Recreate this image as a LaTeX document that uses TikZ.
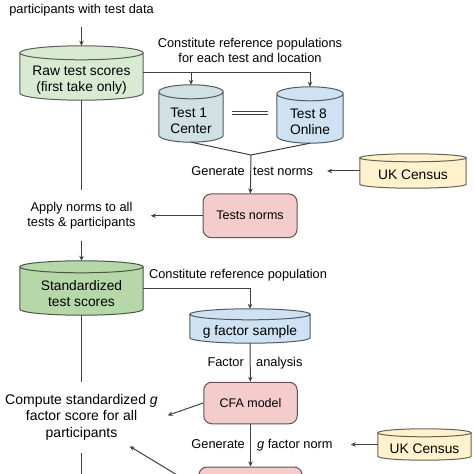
\documentclass[tikz,border=0pt]{standalone}
\usepackage{fontspec}
\setmainfont{Liberation Sans}
\usepackage{xcolor}
\usepackage{tikz}
\usetikzlibrary{positioning}
\usetikzlibrary{calc}
\usetikzlibrary{backgrounds}
\usetikzlibrary{arrows.meta}

\definecolor{rawfill}{HTML}{D9EAD3}
\definecolor{stdfill}{HTML}{B6D7A8}
\definecolor{centerfill}{HTML}{D0E0E3}
\definecolor{onlinefill}{HTML}{CFE2F3}
\definecolor{censusfill}{HTML}{FFF2CC}
\definecolor{normfill}{HTML}{F4CCCC}
\definecolor{linkgray}{HTML}{404040}

% data store drawn round a named node: #1 node, #2 fill, #3 half height of the cap
\newcommand{\drawstore}[3]{%
\draw[storeline, draw=#2!40!black, fill=#2]
  let \p1=(#1.north west), \p2=(#1.south east), \n1={(\x2-\x1)/2} in
  (\x1,{\y1+#3}) -- (\x1,{\y2+#3}) arc[start angle=180, end angle=360, x radius=\n1, y radius=#3] -- (\x2,{\y1+#3})
  ({\x1+\n1},{\y1+#3}) ellipse[x radius=\n1, y radius=#3]
  ({\x1+\n1},{\y1+2*#3}) coordinate (#1-top)
  (\x1,{(\y1+\y2)/2+#3}) coordinate (#1-left)
  (\x2,{(\y1+\y2)/2+#3}) coordinate (#1-right);
}

\tikzset{
storeline/.style={line width=1bp},
store/.style={inner sep=0pt, align=center, font=\fontsize{13.8bp}{16bp}\selectfont},
stepbox/.style={draw=normfill!40!black, fill=normfill, line width=1bp, rounded corners=8bp, inner sep=0pt, font=\fontsize{12.5bp}{15bp}\selectfont},
note/.style={align=center, inner sep=5bp, font=\fontsize{12.8bp}{15bp}\selectfont},
tag/.style={inner sep=2bp, text height=9.2bp, text depth=2.7bp, font=\fontsize{12.8bp}{15bp}\selectfont},
link/.style={draw=linkgray, line width=1bp},
arr/.style={link, -{Stealth[length=5bp, width=4.5bp]}}
}

\begin{document}
\begin{tikzpicture}[x=1bp, y=-1bp]

\useasboundingbox (0,0) rectangle (474,474);
\clip (0,0) rectangle (474,474);

%data stores
\node[store, minimum width=123bp, minimum height=40bp] (raw) at (81.5,80) {Raw test scores\\(first take only)};
\node[store, minimum width=64bp, minimum height=43bp, align=left] (test1) at (191,120.5) {Test 1\\Center};
\node[store, minimum width=66bp, minimum height=42bp, align=left] (test8) at (310,122) {Test 8\\Online};
\node[store, minimum width=106bp, minimum height=26bp] (census1) at (413,175) {UK Census};
\node[store, minimum width=123bp, minimum height=42bp] (std) at (81.5,294) {Standardized\\test scores};
\node[store, minimum width=120bp, minimum height=23bp] (gsample) at (250,331.5) {g factor sample};
\node[store, minimum width=93bp, minimum height=23bp] (census2) at (424.5,448.5) {UK Census};

%processing steps
\node[stepbox, minimum width=94bp, minimum height=43.5bp] (tnorm) at (250,215.75) {Tests norms};
\node[stepbox, minimum width=93.5bp, minimum height=41.5bp] (cfa) at (250.5,403) {CFA model};
\node[stepbox, minimum width=103bp, minimum height=42bp] (gnorm) at (250.5,488) {};

%notes
\node[note, anchor=base] (head) at (81.5,13.5) {participants with test data};
\node[note] (pop1) at (250,50.5) {Constitute reference populations\\for each test and location};
\node[note] (apply) at (81.5,216) {Apply norms to all\\tests \& participants};
\node[note] (pop2) at (238,275) {Constitute reference population};
\node[note, font=\fontsize{14bp}{16.5bp}\selectfont] (compute) at (81.5,417) {Compute standardized \textit{g}\\factor score for all\\participants};

%labels beside the arrows
\coordinate (gen1) at (251,172);
\node[tag, left=4bp of gen1] (gen1l) {Generate};
\node[tag, right=0bp of gen1] (gen1r) {test norms};
\coordinate (fac) at (250,363);
\node[tag, left=4bp of fac] (facl) {Factor};
\node[tag, right=4bp of fac] (facr) {analysis};
\coordinate (gen2) at (250,445);
\node[tag, left=3bp of gen2] (gen2l) {Generate};
\node[tag, right=5bp of gen2] (gen2r) {\textit{g} factor norm};

%cylinders behind the texts
\begin{scope}[on background layer]
\drawstore{raw}{rawfill}{7bp}
\drawstore{test1}{centerfill}{7bp}
\drawstore{test8}{onlinefill}{7bp}
\drawstore{census1}{censusfill}{4bp}
\drawstore{std}{stdfill}{6bp}
\drawstore{gsample}{onlinefill}{5.5bp}
\drawstore{census2}{censusfill}{4bp}
\end{scope}

%connectors
\coordinate (merge) at (251,155);
\coordinate (tail) at (81.5,500);
\draw[arr, shorten <=6bp] (head.south) -- (raw-top);
\draw[arr] (raw-right) -| (test8-top);
\draw[arr] (raw-right -| test1-top) -- (test1-top);
\draw[link, double, double distance=2bp, shorten <=9bp, shorten >=9bp] (test1.east |- 0,113) -- (test8.west |- 0,113);
\draw[link] (test1.south) -- (merge);
\draw[link] (test8.south) -- (merge);
\draw[arr] (merge) -- (tnorm);
\draw[arr, shorten >=12bp] (census1-left) -- (gen1r.east |- census1-left);
\draw[arr, shorten >=10bp] (tnorm) -- (apply.east |- tnorm);
\draw[link, shorten >=7bp] (raw) -- (apply);
\draw[arr, shorten <=6bp] (apply) -- (std-top);
\draw[arr] (std-right) -| (gsample-top);
\draw[arr] (gsample) -- (cfa);
\draw[link, shorten >=7bp] (std) -- (compute);
\draw[link, shorten <=8bp] (compute) -- (tail);
\draw[arr, shorten >=5bp] (cfa.west) -- (compute.east);
\draw[arr] (cfa) -- (gnorm);
\draw[arr, shorten >=16bp] (census2-left) -- (gen2r.east |- census2-left);
\draw[arr, shorten >=2bp] (gnorm.west) -- (compute);

\end{tikzpicture}
\end{document}
